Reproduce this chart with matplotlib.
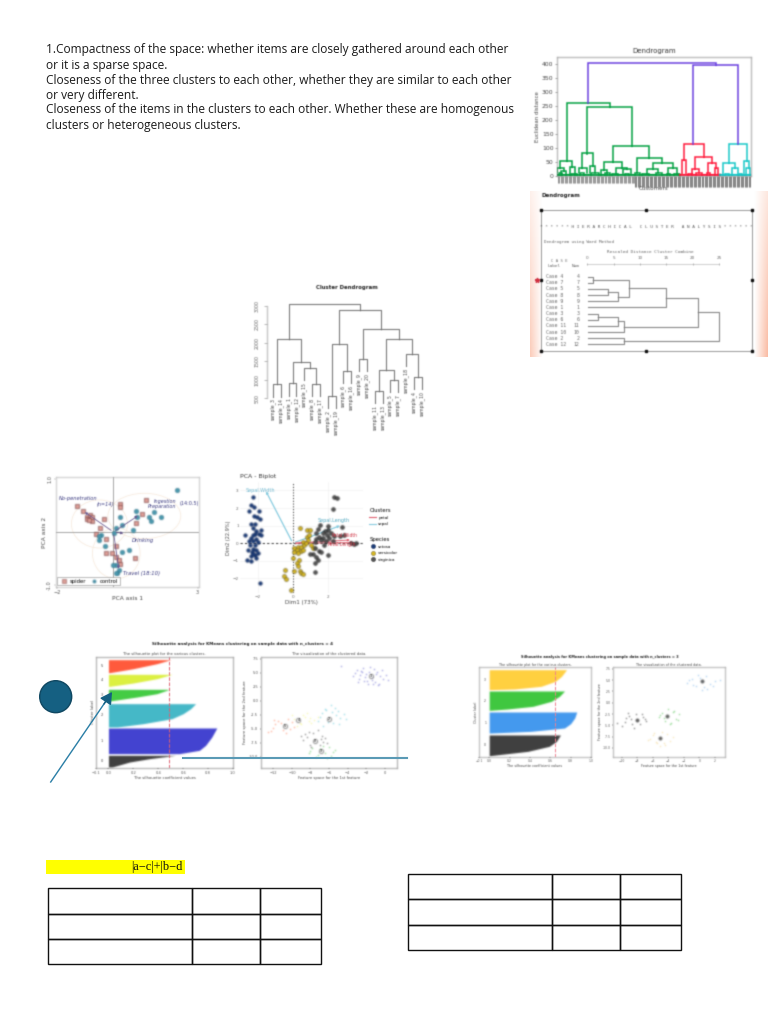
import matplotlib
matplotlib.use('Agg')
import matplotlib.pyplot as plt
import numpy as np
from matplotlib.collections import Collection
from matplotlib.lines import Line2D
from matplotlib.patches import Ellipse, Circle, Rectangle, Patch
from matplotlib.text import Text

W, H = 768, 1024

# Text block at the top of the page
intro_lines = [
    "1.Compactness of the space: whether items are closely gathered around each other",
    "or it is a sparse space.",
    "Closeness of the three clusters to each other, whether they are similar to each other",
    "or very different.",
    "Closeness of the items in the clusters to each other. Whether these are homogenous",
    "clusters or heterogeneous clusters.",
]

# Customers dendrogram: (x left, x right, height left, height right, height)
customer_yticks = [0, 50, 100, 150, 200, 250, 300, 350, 400]
purple_links = [(190, 572, 262, 395, 405), (505, 637, 113, 115, 395)]
green_links = [
    (126, 254, 55, 247, 262), (188, 320, 80, 108, 247), (264, 373, 50, 65, 108),
    (337, 412, 10, 45, 65), (383, 443, 25, 27, 45), (365, 400, 8, 10, 25),
    (428, 455, 8, 8, 27), (107, 143, 28, 32, 55), (98, 118, 12, 18, 28),
    (136, 150, 5, 5, 32), (172, 204, 30, 35, 81), (164, 186, 12, 12, 30),
    (196, 212, 10, 12, 35), (237, 290, 20, 30, 49), (229, 247, 5, 5, 20),
    (274, 306, 8, 24, 30), (295, 318, 6, 6, 24), (108, 124, 4, 4, 18),
    (104, 112, 3, 3, 12), (140, 158, 3, 3, 8), (165, 178, 3, 3, 12),
    (200, 222, 3, 3, 12), (330, 345, 3, 3, 10), (352, 372, 3, 3, 8),
    (392, 410, 3, 3, 10), (425, 436, 3, 3, 8), (448, 462, 3, 3, 8),
    (240, 256, 3, 3, 9), (262, 280, 3, 3, 8), (300, 312, 3, 3, 6),
]
red_links = [
    (477, 535, 58, 68, 113), (472, 484, 8, 8, 58), (509, 560, 25, 48, 68),
    (500, 522, 8, 10, 25), (549, 573, 12, 28, 48), (545, 553, 5, 5, 12),
    (568, 578, 5, 5, 28), (490, 500, 3, 3, 8), (512, 530, 3, 3, 10),
]
cyan_links = [
    (610, 665, 48, 52, 113), (592, 628, 5, 30, 48), (619, 637, 5, 5, 30),
    (655, 670, 5, 30, 52), (662, 674, 5, 5, 30), (600, 612, 3, 3, 8),
    (640, 650, 3, 3, 8),
]
customer_spans = [(97, 466, '#00a040'), (466, 584, '#ff1a3c'), (584, 677, '#18c8c8')]

# SPSS dendrogram, merges are (a, b, distance), negative = leaf
spss_cases = ["Case 4", "Case 7", "Case 5", "Case 8", "Case 9", "Case 1",
              "Case 3", "Case 6", "Case 11", "Case 10", "Case 2", "Case 12"]
spss_nums = [4, 7, 5, 8, 9, 1, 3, 6, 11, 10, 2, 12]
spss_merges = [(-1, -2, 1.0), (-3, -4, 4.0), (2, -5, 5.9), (1, 3, 8.0), (4, -6, 15.0),
               (-7, -8, 2.0), (6, -9, 5.9), (7, -10, 7.0), (5, 8, 21.0),
               (-11, -12, 7.0), (9, 10, 25.0)]
spss_ticks = [0, 5, 10, 15, 20, 25]

# R hclust dendrogram
r_labels = ["sample_3", "sample_14", "sample_1", "sample_12", "sample_15", "sample_8",
            "sample_17", "sample_2", "sample_19", "sample_6", "sample_16", "sample_9",
            "sample_20", "sample_11", "sample_13", "sample_5", "sample_7", "sample_18",
            "sample_4", "sample_10"]
r_merges = [(-1, -2, 878), (-3, -4, 905), (-6, -7, 896), (-5, 3, 1320), (2, 4, 1491),
            (1, 5, 2113), (-8, -9, 563), (-10, -11, 1239), (7, 8, 1968), (-12, -13, 1563),
            (-14, -15, 707), (-16, -17, 995), (11, 12, 1275), (-19, -20, 1077),
            (-18, 14, 1698), (13, 15, 2095), (10, 16, 2365), (9, 17, 2887), (6, 18, 3059)]
r_ticks = [500, 1000, 1500, 2000, 2500, 3000]

# PCA with the spider / control groups
spider_x = [-1.31, -1.10, -0.95, -0.83, -0.77, -0.95, -0.76, -0.86, -0.33, -0.49, -0.62, -0.26,
            -0.26, -0.04, 0.25, 0.25, 1.17, 1.00, 0.80, 0.76, 0.10, 0.10, 0.18, 0.24]
spider_y = [0.48, 0.40, 0.29, 0.31, 0.28, 0.24, 0.20, 0.23, 0.24, 0.08, -0.03, -0.13,
            -0.39, -0.39, 0.53, 0.46, 0.60, 0.34, 0.17, -0.49, -0.27, -0.46, -0.52, -0.59]
control_x = [2.26, 1.46, 1.70, 1.25, 1.33, 0.81, 0.83, 0.23, 0.30, 0.10, 0.69, 0.02,
             -0.44, -0.52, -0.50, -0.30, 0.57, 0.32, 0.10, 0.0, 0.18, 0.14, 0.10]
control_y = [0.79, 0.37, 0.28, 0.29, 0.20, 0.39, 0.28, 0.28, 0.14, 0.08, 0.03, -0.02,
             -0.06, -0.08, -0.15, -0.26, -0.33, -0.38, -0.61, -0.61, -0.71, -0.77, -0.77]
pca_arrows = [(-1.10, 0.40), (0.95, 0.33), (0.45, -0.03), (0.20, -0.74)]

# Iris biplot
setosa_x = [-2.26, -2.40, -2.21, -2.51, -1.92, -2.21, -2.04, -1.85, -2.36, -2.17, -2.26, -1.79, -2.08,
            -2.13, -1.94, -2.74, -2.26, -1.79, -2.36, -2.08, -2.49, -2.26, -1.98, -2.42, -2.17,
            -2.26, -2.08, -2.55, -2.32, -1.98, -2.17, -2.36, -2.08, -2.60, -2.36, -2.26, -1.85]
setosa_y = [2.65, 2.15, 2.06, 1.85, 1.81, 1.52, 1.47, 1.37, 1.09, 1.09, 0.86, 0.76, 0.70,
            0.53, 0.51, 0.48, 0.44, 0.44, 0.29, 0.25, 0.13, 0.10, 0.06, -0.10, -0.10,
            -0.32, -0.38, -0.38, -0.51, -0.57, -0.67, -0.70, -0.82, -0.95, -1.01, -0.63, -2.29]
versicolor_x = [.43, .79, .79, .91, .85, .57, .28, .09, .47, .66, .72, .23, .47, .57, .28, .04,
                0, .34, .23, .28, .09, .38, .47, .57, -.47, -.53, -.38, -.09, .98, 1.13, 1.04]
versicolor_y = [.86, .76, .38, .48, .19, .06, -.19, -.29, -.19, -.10, 0, -.38, -.44, -.38, -.57, -.51,
                -.86, -.95, -1.14, -1.30, -1.58, -1.58, -1.71, -1.75, -1.54, -1.87, -2.06, -2.67,
                .76, -.29, -.10]
virginica_x = [2.36, 2.49, 2.26, 1.98, 1.57, 2.77, 1.42, 1.98, 1.32, 1.85, 1.70, 1.92, 2.17, 1.51, 1.74,
               2.08, 2.36, 2.68, 2.92, 1.32, 1.60, 1.89, 2.26, 3.30, 3.49, 3.58, 1.23, 1.79, 1.51,
               1.23, 1.60, 1.13, 1.98, 1.32, 1.23, 1.23, 1.42, .98]
virginica_y = [2.63, 2.57, 1.94, .99, 1.01, .90, .82, .76, .57, .67, .57, .48, .57, .38, .32,
               .32, .42, .42, .48, .25, .19, .13, .13, .04, -.06, 0, .06, -.10, -.44,
               -.29, -.48, -.63, -.67, -.76, -1.14, -1.66, -.95, -.63]
sepal_arrows = [(-1.60, 3.10), (2.83, 1.05)]
petal_arrows = [(3.40, 0.19), (3.58, 0.04)]

# Silhouette profiles: sample position and coefficient, one list per cluster
sil4_y = [[6, 36, 56, 76], [86, 106, 136, 186, 240], [246, 266, 296, 326, 356, 386],
          [402, 426, 446, 472], [490, 510, 536, 562], [572, 596, 626, 650]]
sil4_x = [[.03, .17, .33, .54], [.57, .73, .78, .83, .87], [.07, .28, .51, .60, .66, .70],
          [.01, .23, .39, .49], [.01, .20, .39, .51], [.01, .20, .39, .50]]
sil4_colors = ['#404040', '#4343d0', '#45b8c8', '#44cc44', '#dcf040', '#ff5a3c']
sil4_avg = 0.49

sil3_y = [[8, 18, 34, 64, 94, 132], [144, 154, 174, 200, 234, 270],
          [280, 288, 304, 334, 364, 396], [404, 408, 424, 454, 484, 524]]
sil3_x = [[.01, .15, .38, .59, .66, .70], [.02, .41, .74, .80, .84, .86],
          [0, .18, .43, .61, .69, .74], [.02, .25, .51, .65, .71, .76]]
sil3_colors = ['#404040', '#4499ee', '#40c840', '#ffd040']
sil3_avg = 0.65

# Cluster scatter, k = 4
scat4_x = [[-10.8, -11.5, -10.2, -11, -10, -12, -11.8, -10.4, -9.8, -12.6, -11.2, -10.6, -11.9, -12.3],
           [-9.3, -8.6, -10, -8.2, -9, -9.8, -8, -8.8, -7.6, -9.5, -8.4, -9.1, -7.9, -7.2],
           [-6, -5.2, -6.8, -5.6, -6.3, -4.8, -7.2, -5, -6.6, -4.4, -5.8, -7, -5.4, -6.1, -4.9, -6.4, -5.7, -4.2],
           [-7.5, -8.4, -6.8, -8, -7, -8.8, -6.4, -7.7, -8.2, -6.6, -7.2, -8.6, -6.9, -7.9, -6.2, -9],
           [-6.9, -6, -7.8, -5.4, -7.2, -6.4, -8, -5.8, -6.6, -7.4, -5.6, -7, -6.2, -8.2],
           [-1.5, -3.2, -2.8, -2.5, -2.2, -2, -1.8, -1.3, -1, -0.8, -0.5, -0.2, 0.2, -2.6, -1.2, -0.7, -3, -2.3, -4.7,
            -2.9, -2.1, -1.7, -1.1, -0.6, 0.4, -3.4, -1.4, -0.9, -2.4, -1.9, -0.3, -1.6]]
scat4_y = [[-4.4, -3.6, -5, -5.2, -3.8, -4.8, -4.2, -3.2, -4.6, -5.6, -4, -5.8, -3.4, -5.3],
           [-3.5, -2.8, -2.6, -3.6, -4.2, -3.2, -3, -2.5, -3.4, -4.4, -2.2, -3.9, -4, -2.9],
           [-3.3, -2.6, -2.2, -4, -1.6, -3, -3.6, -1.8, -4.4, -2.4, -0.8, -2.8, -1.2, -3.8, -4.2, -1.4, -2, -3.2],
           [-7.2, -6.4, -6.2, -7.8, -7.8, -7, -6.6, -5.8, -5.6, -7.4, -5.2, -6, -6.9, -8.2, -7.5, -6.3],
           [-8.9, -8.2, -8.4, -8.8, -9.6, -9.4, -9, -9.8, -8, -10, -9.2, -8.6, -10.2, -9.3],
           [4.5, 4.9, 4, 5.4, 3.6, 4.8, 3.1, 4.2, 3.4, 5.2, 4.4, 3.9, 4.6, 4.6, 3, 2.9, 5.6, 5.8, 6.2,
            3.4, 4.2, 5.1, 5.7, 3.1, 3.7, 4.4, 3.8, 4.8, 5.1, 3.5, 5.5, 6]]
scat4_colors = ['#ff9070', '#f4f490', '#70d0e0', '#606060', '#70d070', '#8080d8']
center4_x = [-10.75, -9.3, -6.0, -7.5, -6.9, -1.5]
center4_y = [-4.4, -3.5, -3.3, -7.2, -8.9, 4.5]
center4_ids = [5, 4, 2, 0, 3, 1]

# Cluster scatter, k = 3
scat3_x = [[-8, -9, -7.2, -8.6, -7.6, -9.6, -6.8, -8.2, -10, -7.4, -8.8, -9.2, -8.4, -7, -9.4, -10.6],
           [-4.1, -3.4, -4.8, -3, -4.4, -3.6, -5.2, -2.6, -4, -4.6, -3.2, -3.8, -5, -2.8],
           [-5.1, -4.2, -6, -3.8, -5.4, -4.6, -6.4, -5.8, -4.8, -5, -3.4, -6.6, -4.4, -5.6],
           [0.3, -1, 1.4, -0.4, 0.8, 2, -0.2, 1, -1.6, 0.4, 2.6, -0.8, 1.7, 0.1, -1.3, 0.6]]
scat3_y = [[-3.75, -3, -3.1, -4.6, -4.8, -4.2, -4, -2.6, -5.2, -2.4, -3.6, -2.2, -5.6, -3.5, -3.3, -4.4],
           [-3, -2, -2.2, -3.6, -4, -4.4, -3.2, -2.6, -1.4, -3.4, -1.8, -4.8, -2.8, -3.8],
           [-7.9, -7, -7.2, -8.4, -9, -8.8, -8, -6.6, -6.4, -9.6, -7.6, -8.2, -9.3, -8.6],
           [4.7, 5.2, 4.2, 3.6, 5.8, 4.8, 6.2, 3, 4.4, 2.8, 5.1, 3.9, 3.7, 5.4, 5, 3.4]]
scat3_colors = ['#404040', '#60c860', '#f4d890', '#80b8ec']
center3_x = [-8, -4.1, -5.1, 0.3]
center3_y = [-3.75, -3, -7.9, 4.7]


def px_axes(x0, y0, x1, y1, **kw):
    return fig.add_axes([x0/W, 1-y1/H, (x1-x0)/W, (y1-y0)/H], **kw)


def merge_links(merges):
    # leaves sit at 0..n-1, each merge sits in the middle of its two children
    pos = {}
    hgt = {}
    links = []
    for i, (a, b, h) in enumerate(merges):
        pa = -a-1 if a < 0 else pos[a]
        pb = -b-1 if b < 0 else pos[b]
        ha = None if a < 0 else hgt[a]
        hb = None if b < 0 else hgt[b]
        links.append((pa, pb, ha, hb, h))
        pos[i+1] = (pa+pb)/2
        hgt[i+1] = h
    return links


def soft(img, dpi):
    # the panels are small scanned pictures, so smear them a little
    a = np.pad(img, ((2, 2), (2, 2), (0, 0))).astype(float)
    a[..., :3] *= a[..., 3:]
    for axis in (0, 1):
        a = 0.64*a + 0.18*np.roll(a, 1, axis=axis) + 0.18*np.roll(a, -1, axis=axis)
    alpha = np.clip(a[..., 3:], 1e-4, 1)
    a[..., :3] = np.clip(a[..., :3]/alpha, 0, 1)
    return a, -2, -2


def soften(ax):
    for art in ax.findobj(lambda o: isinstance(o, (Line2D, Text, Patch, Collection))):
        if art is not ax.patch:
            art.set_agg_filter(soft)


fig = plt.figure(figsize=(W/100, H/100), dpi=100, facecolor='white')

# ---- customers dendrogram ----
ax = px_axes(557, 57, 751, 176)
for links, col in [(green_links, '#00a040'), (red_links, '#ff1a3c'),
                   (cyan_links, '#18c8c8'), (purple_links, '#6a3fe0')]:
    for xl, xr, hl, hr, h in links:
        ax.plot([xl, xl, xr, xr], [hl, h, h, hr], color=col, lw=1.1, solid_joinstyle='miter')
for x0, x1, col in customer_spans:
    ax.plot([x0, x1], [2, 2], color=col, lw=1.6)
ax.set_xlim(97, 677)
ax.set_ylim(0, 425)
ax.set_yticks(customer_yticks)
ax.set_xticks(list(range(100, 330, 4)))
ax.set_xticks(list(range(330, 677, 4)), minor=True)
ax.tick_params(axis='x', which='major', length=5, width=0.45, color='#444444', labelbottom=False)
ax.tick_params(axis='x', which='minor', length=8, width=0.5, color='#333333', labelbottom=False)
ax.tick_params(axis='y', labelsize=4.4, length=1.5, width=0.4, pad=1, labelcolor='#444444', color='#666666')
for s in ax.spines.values():
    s.set_linewidth(0.5)
    s.set_color('#777777')
ax.set_title("Dendrogram", fontsize=5, pad=3, color='#333333')
ax.set_ylabel("Euclidean distance", fontsize=3.9, labelpad=1.5, color='#444444')
ax.text(387, -46, "Customers", fontsize=4, ha='center', va='center', color='#444444')
soften(ax)

# ---- SPSS dendrogram ----
bg = px_axes(530, 191, 768, 357, zorder=3)
grad = np.ones((60, 238, 3))
fade_r = np.clip((np.arange(238)-224)/14, 0, 1)[None, :]*np.linspace(0.35, 1, 60)[:, None]
fade_l = np.clip((12-np.arange(238))/12, 0, 1)[None, :]*np.linspace(0.2, 0.7, 60)[:, None]
fade = np.maximum(fade_r, fade_l)
for c, v in enumerate((0.98, 0.72, 0.62)):
    grad[:, :, c] = 1-(1-v)*fade
bg.imshow(grad, aspect='auto', extent=(530, 768, 357, 191), interpolation='bilinear')
bg.set_xlim(530, 768)
bg.set_ylim(357, 191)
bg.axis('off')
bg.add_patch(Rectangle((541, 210), 211, 141, fill=False, ec='#999999', lw=0.7))
bg.plot([541, 646, 752, 541, 752, 541, 646, 752], [210, 210, 210, 280, 280, 351, 351, 351],
        ls='none', marker='s', ms=2, color='#111111')
bg.plot([537], [280], ls='none', marker='*', ms=3.5, color='#d03040')
bg.text(541, 196, "Dendrogram", fontsize=4, fontweight='bold', va='center', color='#222222')
bg.text(646, 227, "* * * * * * H I E R A R C H I C A L   C L U S T E R   A N A L Y S I S * * * * * *",
        fontsize=3.15, family='DejaVu Sans Mono', ha='center', va='center', color='#555555')
bg.text(544, 241.5, "Dendrogram using Ward Method", fontsize=3.1, family='DejaVu Sans Mono', va='center', color='#666666')
bg.text(650, 252, "Rescaled Distance Cluster Combine", fontsize=3.2, family='DejaVu Sans Mono', ha='center', va='center', color='#666666')
bg.text(559, 261, "C A S E", fontsize=2.8, family='DejaVu Sans Mono', ha='center', va='center', color='#666666')
bg.text(554, 266, "Label", fontsize=3.2, family='DejaVu Sans Mono', ha='center', va='center', color='#666666')
bg.text(576, 266, "Num", fontsize=3.2, family='DejaVu Sans Mono', ha='center', va='center', color='#666666')

ax = px_axes(587.3, 276.7, 719, 344.3, zorder=4)
ax.patch.set_alpha(0)
for pa, pb, ha, hb, h in merge_links(spss_merges):
    ax.plot([0.2 if ha is None else ha, h, h, 0.2 if hb is None else hb], [pa, pa, pb, pb],
            color='#888888', lw=0.8, clip_on=False)
for i, (name, num) in enumerate(zip(spss_cases, spss_nums)):
    ax.text(-7.8, i, name, fontsize=3.5, family='DejaVu Sans Mono', va='center', color='#666666')
    ax.text(-1.5, i, str(num), fontsize=3.5, family='DejaVu Sans Mono', va='center', ha='right', color='#666666')
ax.set_xlim(0, 25)
ax.set_ylim(11, 0)
for t in spss_ticks:
    ax.text(t, -3.0, str(t), fontsize=3, ha='center', va='center', color='#666666')
    ax.plot([t], [-2.0], marker='|', ms=1.6, mew=0.4, color='#888888', clip_on=False)
ax.plot([0, 25], [-2.0, -2.0], color='#aaaaaa', lw=0.4, clip_on=False)
ax.axis('off')
soften(bg)
soften(ax)

# ---- R cluster dendrogram ----
ax = px_axes(266.7, 303.7, 424, 398.3)
ax.patch.set_alpha(0)
hang = 330
for pa, pb, ha, hb, h in merge_links(r_merges):
    ax.plot([pa, pa, pb, pb], [h-hang if ha is None else ha, h, h, h-hang if hb is None else hb],
            color='#7a7a7a', lw=0.8, clip_on=False)
leaf_tops = {}
for a, b, h in r_merges:
    for c in (a, b):
        if c < 0:
            leaf_tops[-c-1] = h-hang
for i, name in enumerate(r_labels):
    ax.text(i, leaf_tops[i]-50, name, rotation=90, fontsize=3.3, ha='center', va='top', color='#444444', clip_on=False)
ax.set_xlim(-0.8, 19.3)
ax.set_ylim(500, 3059)
ax.set_yticks(r_ticks)
ax.set_yticklabels([str(t) for t in r_ticks], rotation=90, va='center')
ax.set_xticks([])
ax.tick_params(axis='y', labelsize=3.4, length=2, width=0.4, pad=3, labelcolor='#666666', color='#888888')
for name in ('top', 'right', 'bottom'):
    ax.spines[name].set_visible(False)
ax.spines['left'].set_linewidth(0.5)
ax.spines['left'].set_color('#888888')
ax.spines['left'].set_bounds(500, 3000)
ax.text(9.5, 3500, "Cluster Dendrogram", fontsize=3.9, fontweight='bold', ha='center', va='center', color='#222222', clip_on=False)
soften(ax)

# ---- PCA spider / control ----
ax = px_axes(55.7, 477, 199, 587)
ax.add_patch(Ellipse((1.1, 0.30), 2.6, 0.85, angle=0.06, fill=False, ec='#f8ece0', lw=0.6))
ax.add_patch(Ellipse((-0.5, 0.15), 2.0, 0.9, angle=-0.12, fill=False, ec='#f8ece0', lw=0.6))
ax.add_patch(Ellipse((0.1, -0.40), 1.7, 0.95, fill=False, ec='#f8ece0', lw=0.6))
ax.axhline(0, color='#999999', lw=0.6)
ax.axvline(0, color='#999999', lw=0.6)
ax.scatter(spider_x, spider_y, marker='s', s=9, c='#e0a098', edgecolors='#804848', linewidths=0.5, zorder=3)
ax.scatter(control_x, control_y, marker='o', s=10, c='#4a9ab0', edgecolors='#2f6f85', linewidths=0.4, zorder=3)
for x, y in pca_arrows:
    ax.annotate('', xy=(x, y), xytext=(0, 0), zorder=4,
                arrowprops=dict(arrowstyle='-|>', color='#6a5a90', lw=0.6, mutation_scale=3.5))
ax.text(-1.95, 0.62, "No-penetration", fontsize=3.7, style='italic', color='#3a3a80', va='center')
ax.text(-0.6, 0.52, "(n=14)", fontsize=3.5, style='italic', color='#3a3a80', va='center')
ax.text(1.45, 0.58, "Ingestion", fontsize=3.5, style='italic', color='#3a3a80', va='center')
ax.text(1.22, 0.47, "Preparation", fontsize=3.5, style='italic', color='#3a3a80', va='center')
ax.text(2.36, 0.53, "(14:0.5)", fontsize=3.5, color='#3a3a80', va='center')
ax.text(0.65, -0.16, "Drinking", fontsize=3.8, style='italic', color='#3a3a80', va='center')
ax.text(0.35, -0.77, "Travel (18:10)", fontsize=3.8, style='italic', color='#3a3a80', va='center')
ax.set_xlim(-2.06, 3.05)
ax.set_ylim(-1.03, 1.03)
ax.set_xticks([-2, 3])
ax.set_yticks([1.0, -1.0])
ax.set_yticklabels(['1.0', '-1.0'], rotation=90, va='center')
ax.tick_params(labelsize=3.6, length=1.5, width=0.3, pad=1, labelcolor='#555555', color='#999999')
for s in ax.spines.values():
    s.set_linewidth(0.5)
    s.set_color('#aaaaaa')
ax.set_xlabel("PCA axis 1", fontsize=4.2, labelpad=0.5, color='#444444')
ax.set_ylabel("PCA axis 2", fontsize=4.2, labelpad=0, color='#444444')
ax.scatter([], [], marker='s', s=5, c='#e0a098', edgecolors='#804848', linewidths=0.4, label='spider')
ax.scatter([], [], marker='o', s=5, c='#4a9ab0', edgecolors='#2f6f85', linewidths=0.4, label='control')
ax.legend(loc='lower left', ncol=2, fontsize=3.8, frameon=True, edgecolor='#888888', fancybox=False, framealpha=1,
          borderpad=0.3, handletextpad=0.1, columnspacing=0.5, borderaxespad=0.3).get_frame().set_linewidth(0.4)
soften(ax)

# ---- PCA biplot ----
ax = px_axes(240, 481.7, 363.3, 593.3)
ax.grid(True, color='#f0f0f0', lw=0.4)
ax.set_axisbelow(True)
ax.axhline(0, color='#555555', lw=0.8, ls=(0, (2, 2)))
ax.axvline(0, color='#555555', lw=0.8, ls=(0, (1, 1.5)))
for x, y in sepal_arrows:
    ax.annotate('', xy=(x, y), xytext=(0, 0), arrowprops=dict(arrowstyle='-|>', color='#88cce0', lw=0.9, mutation_scale=3))
for x, y in petal_arrows:
    ax.annotate('', xy=(x, y), xytext=(0, 0), arrowprops=dict(arrowstyle='-|>', color='#e06070', lw=0.7, mutation_scale=3))
ax.scatter(setosa_x, setosa_y, s=7, c='#1a3c78', edgecolors='#10204a', linewidths=0.3, zorder=3)
ax.scatter(versicolor_x, versicolor_y, s=8, c='#d8b820', edgecolors='#5a5020', linewidths=0.4, zorder=3)
ax.scatter(virginica_x, virginica_y, s=7, c='#555555', edgecolors='#111111', linewidths=0.4, zorder=3)
ax.text(-1.85, 3.0, "Sepal.Width", fontsize=3.5, color='#70b8d0', ha='center', va='center')
ax.text(2.3, 1.28, "Sepal.Length", fontsize=3.5, color='#50a8c0', ha='center', va='center')
ax.text(2.95, 0.42, "Petal.Width", fontsize=3.3, color='#d03848', ha='center', va='center', zorder=4)
ax.text(2.8, -0.1, "Petal.Length", fontsize=3.3, color='#d03848', ha='center', va='center', zorder=4)
ax.set_xlim(-3.0, 4.0)
ax.set_ylim(-2.85, 3.5)
ax.set_xticks([-2, 0, 2])
ax.set_yticks([-2, -1, 0, 1, 2, 3])
ax.tick_params(labelsize=3, length=0, pad=1, labelcolor='#666666')
for s in ax.spines.values():
    s.set_visible(False)
ax.set_title("PCA - Biplot", fontsize=4.4, loc='left', pad=2.5, color='#333333')
ax.set_xlabel("Dim1 (73%)", fontsize=4, labelpad=1, color='#444444')
ax.set_ylabel("Dim2 (22.9%)", fontsize=3.6, labelpad=1, color='#444444')
h_clusters = [Line2D([], [], color='#e06070', lw=0.8), Line2D([], [], color='#88cce0', lw=0.8)]
leg1 = ax.legend(h_clusters, ['petal', 'sepal'], title='Clusters', loc='upper left',
                 bbox_to_anchor=(1.05, 0.764), fontsize=3, title_fontsize=3.8, frameon=False,
                 alignment='left', borderpad=0, borderaxespad=0, handlelength=1.5, handletextpad=0.6, labelspacing=0.6)
ax.add_artist(leg1)
h_species = [Line2D([], [], ls='none', marker='o', ms=3, mfc='#1a3c78', mec='#10204a', mew=0.3),
             Line2D([], [], ls='none', marker='o', ms=3, mfc='#d8b820', mec='#5a5020', mew=0.3),
             Line2D([], [], ls='none', marker='o', ms=3, mfc='#555555', mec='#111111', mew=0.3)]
ax.legend(h_species, ['setosa', 'versicolor', 'virginica'], title='Species', loc='upper left',
          bbox_to_anchor=(1.05, 0.504), fontsize=3, title_fontsize=3.8, frameon=False,
          alignment='left', borderpad=0, borderaxespad=0, handlelength=1.5, handletextpad=0.6, labelspacing=0.6)
soften(ax)

# ---- silhouette k = 4 ----
ax = px_axes(96, 657, 233, 768)
for ys, xs, col in zip(sil4_y, sil4_x, sil4_colors):
    ax.fill_betweenx(ys, 0, xs, color=col, lw=0)
ax.axvline(sil4_avg, color='#e06070', ls='--', lw=0.7)
for i, ys in enumerate(sil4_y):
    ax.text(-0.05, (ys[0]+ys[-1])/2, str(i), fontsize=2.6, ha='center', va='center', color='#444444')
ax.set_xlim(-0.1, 1.0)
ax.set_ylim(0, 666)
ax.set_xticks([-0.1, 0.0, 0.2, 0.4, 0.6, 0.8, 1.0])
ax.set_yticks([])
ax.tick_params(labelsize=2.6, length=1, width=0.3, pad=1, labelcolor='#555555')
for s in ax.spines.values():
    s.set_linewidth(0.5)
    s.set_color('#777777')
ax.set_title("The silhouette plot for the various clusters.", fontsize=2.7, pad=1.5, color='#444444')
ax.set_xlabel("The silhouette coefficient values", fontsize=2.7, labelpad=1, color='#444444')
ax.set_ylabel("Cluster label", fontsize=2.7, labelpad=1, color='#444444')
soften(ax)

# ---- scatter k = 4 ----
ax = px_axes(261, 657, 397, 768)
for xs, ys, col in zip(scat4_x, scat4_y, scat4_colors):
    ax.scatter(xs, ys, s=0.9, c=col, lw=0)
ax.scatter(center4_x, center4_y, s=9, c='white', edgecolors='#333333', linewidths=0.4, zorder=3)
for x, y, i in zip(center4_x, center4_y, center4_ids):
    ax.text(x, y, str(i), fontsize=2.4, ha='center', va='center', color='#222222', zorder=4)
ax.set_xlim(-13.35, 1.35)
ax.set_ylim(-12, 7.85)
ax.set_xticks([-12, -10, -8, -6, -4, -2, 0])
ax.set_yticks([7.5, 5, 2.5, 0, -2.5, -5, -7.5, -10])
ax.set_yticklabels(['7.5', '5.0', '2.5', '0.0', '-2.5', '-5.0', '-7.5', '-10.0'])
ax.tick_params(labelsize=2.6, length=1, width=0.3, pad=1, labelcolor='#555555')
for s in ax.spines.values():
    s.set_linewidth(0.5)
    s.set_color('#777777')
ax.set_title("The visualization of the clustered data.", fontsize=2.7, pad=1.5, color='#444444')
ax.set_xlabel("Feature space for the 1st feature", fontsize=2.7, labelpad=1, color='#444444')
ax.set_ylabel("Feature space for the 2nd feature", fontsize=2.7, labelpad=1, color='#444444')
soften(ax)

# ---- silhouette k = 3 ----
ax = px_axes(479, 667, 591, 757)
for ys, xs, col in zip(sil3_y, sil3_x, sil3_colors):
    ax.fill_betweenx(ys, 0, xs, color=col, lw=0)
ax.axvline(sil3_avg, color='#f08090', ls='--', lw=0.7)
for i, ys in enumerate(sil3_y):
    ax.text(-0.04, (ys[0]+ys[-1])/2, str(i), fontsize=2.2, ha='center', va='center', color='#444444')
ax.set_xlim(-0.1, 1.0)
ax.set_ylim(0, 540)
ax.set_xticks([-0.1, 0.0, 0.2, 0.4, 0.6, 0.8, 1.0])
ax.set_yticks([])
ax.tick_params(labelsize=2.2, length=0.8, width=0.3, pad=0.8, labelcolor='#555555')
for s in ax.spines.values():
    s.set_linewidth(0.5)
    s.set_color('#888888')
ax.set_title("The silhouette plot for the various clusters.", fontsize=2.4, pad=1, color='#444444')
ax.set_xlabel("The silhouette coefficient values", fontsize=2.4, labelpad=0.8, color='#444444')
ax.set_ylabel("Cluster label", fontsize=2.4, labelpad=0.8, color='#444444')
soften(ax)

# ---- scatter k = 3 ----
ax = px_axes(613, 667, 725, 757)
for xs, ys, col in zip(scat3_x, scat3_y, scat3_colors):
    ax.scatter(xs, ys, s=0.8, c=col, lw=0)
ax.scatter(center3_x, center3_y, s=6, c='#666666', edgecolors='#333333', linewidths=0.2, zorder=3)
ax.set_xlim(-11.1, 3.3)
ax.set_ylim(-12, 7.9)
ax.set_xticks([-10, -8, -6, -4, -2, 0, 2])
ax.set_yticks([7.5, 5, 2.5, 0, -2.5, -5, -7.5, -10])
ax.set_yticklabels(['7.5', '5.0', '2.5', '0.0', '-2.5', '-5.0', '-7.5', '-10.0'])
ax.tick_params(labelsize=2.2, length=0.8, width=0.3, pad=0.8, labelcolor='#555555')
for s in ax.spines.values():
    s.set_linewidth(0.5)
    s.set_color('#888888')
ax.set_title("The visualization of the clustered data.", fontsize=2.4, pad=1, color='#444444')
ax.set_xlabel("Feature space for the 1st feature", fontsize=2.4, labelpad=0.8, color='#444444')
ax.set_ylabel("Feature space for the 2nd feature", fontsize=2.4, labelpad=0.8, color='#444444')
soften(ax)

# ---- page overlay: text, shapes, formula ----
page = px_axes(0, 0, W, H, zorder=10)
page.patch.set_alpha(0)
page.set_xlim(0, W)
page.set_ylim(H, 0)
page.axis('off')
line_y = [50, 65, 80.5, 95, 110, 125]
for y, line in zip(line_y, intro_lines):
    page.text(46, y, line, fontsize=8.6, family='Open Sans', va='center', color='#1a1a1a')

t1 = page.text(243, 644, "Silhouette analysis for KMeans clustering on sample data with n_clusters = 4",
               fontsize=3.0, fontweight='bold', ha='center', va='center', color='#222222')
t2 = page.text(600, 657, "Silhouette analysis for KMeans clustering on sample data with n_clusters = 3",
               fontsize=2.6, fontweight='bold', ha='center', va='center', color='#222222')
t1.set_agg_filter(soft)
t2.set_agg_filter(soft)

page.add_patch(Circle((55.7, 696.7), 16, fc='#156082', ec='#0f4761', lw=1))
page.plot([50.7, 106], [782, 701], color='#2a7ea6', lw=1)
page.annotate('', xy=(112, 692), xytext=(104, 704),
              arrowprops=dict(arrowstyle='-|>,head_length=0.7,head_width=0.4', color='#156082', lw=1,
                              mutation_scale=10, shrinkA=0, shrinkB=0))
page.plot([183, 407], [758, 758], color='#5a9ab5', lw=1.5)

page.add_patch(Rectangle((46.3, 860), 138.7, 13.7, fc='#ffff00', ec='none'))
page.text(131, 867, "|a\u2212c|+|b\u2212d", fontsize=8.9, family='Liberation Serif', va='center', color='#111111')

for xs, ys in [([47.7, 191.7, 260, 320.7], [888.3, 913.3, 939, 964.3]),
               ([408, 552, 620, 681], [874, 900, 925, 950])]:
    tb = page.table(cellText=[['', '', '']]*3, colWidths=[(xs[i+1]-xs[i])/W for i in range(3)],
                    bbox=[xs[0]/W, 1-ys[-1]/H, (xs[-1]-xs[0])/W, (ys[-1]-ys[0])/H])
    for cell in tb.get_celld().values():
        cell.set_linewidth(1.0)
        cell.set_edgecolor('#111111')
        cell.set_facecolor('none')

plt.savefig('out.png', dpi=100)
